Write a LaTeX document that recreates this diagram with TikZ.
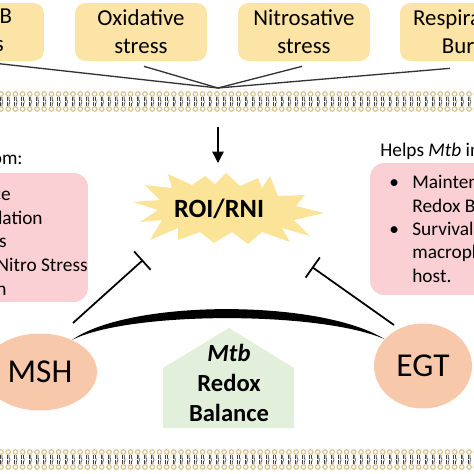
\documentclass[tikz,border=0pt]{standalone}
\usepackage{fontspec}
\setmainfont{Carlito}
\usetikzlibrary{shapes.geometric,arrows.meta,calc}

\definecolor{stressyellow}{HTML}{FCE4A6}
\definecolor{boxpink}{HTML}{FAD0D4}
\definecolor{thiolpeach}{HTML}{F8C8AA}
\definecolor{redoxgreen}{HTML}{E2EFDA}
\definecolor{burstyellow}{HTML}{FBE398}
\definecolor{lipidhead}{HTML}{D8C28E}
\definecolor{linegray}{HTML}{333333}

\begin{document}
\begin{tikzpicture}[x=0.02cm, y=-0.02cm,
    stressbox/.style={fill=stressyellow, rounded corners=6pt, minimum width=2.64cm,
        minimum height=1.16cm, inner sep=1pt, align=center, font=\fontsize{13}{15.9}\selectfont},
    infobox/.style={fill=boxpink, rounded corners=8pt},
    thiol/.style={ellipse, fill=thiolpeach, inner sep=1pt, font=\fontsize{19}{22}\selectfont},
    inhibit/.style={line width=1pt, -{Bar[width=14pt]}},
    listtext/.style={font=\fontsize{11}{13.4}\selectfont, inner sep=0pt},
    headring/.style={draw=lipidhead, fill=white, line width=0.65pt},
    tailline/.style={draw=darkgray, line width=0.45pt},
]
    \useasboundingbox (0,0) rectangle (474,474);
    \clip (0,0) rectangle (474,474);

    % Membranes - top and bottom bilayer
    \foreach \ytop in {94,452}{
        \foreach \x in {1,8.2,...,480}{
            \draw[tailline] (\x-0.9,\ytop+3) -- (\x-0.9,\ytop+7);
            \draw[tailline] (\x+0.9,\ytop+3) -- (\x+0.9,\ytop+6) -- (\x+1.8,\ytop+7.5);
            \draw[tailline] (\x-0.9,\ytop+8) -- (\x-0.9,\ytop+12);
            \draw[tailline] (\x+1.8,\ytop+8.5) -- (\x+0.9,\ytop+9.5) -- (\x+0.9,\ytop+12);
            \draw[headring] (\x,\ytop) circle[radius=1.3pt];
            \draw[headring] (\x,\ytop+15) circle[radius=1.3pt];
        }
    }

    % Stress sources outside
    \node[stressbox] (drugs) at (-22,32) {Anti-TB\\drugs};
    \node[stressbox] (oxi) at (141,32) {Oxidative\\stress};
    \node[stressbox] (nitro) at (304,32) {Nitrosative\\stress};
    \node[stressbox] (resp) at (466,32) {Respiratory\\Burst};

    \coordinate (meet) at (218,88);
    \draw[linegray, line width=0.75pt] (drugs.south) -- (meet);
    \draw[linegray, line width=0.75pt] ($(oxi.south)+(3,5)$) -- (meet);
    \draw[linegray, line width=0.75pt] ($(nitro.south)+(-2,5)$) -- (meet);
    \draw[linegray, line width=0.75pt] ($(resp.south)+(-16,7)$) -- (meet);

    % Arrow into the cell
    \coordinate (entry) at (218,127);
    \coordinate (hit) at (218,163);
    \draw[line width=0.8pt, -{Triangle[length=6.5pt,width=6.5pt]}] (entry) -- (hit);

    % ROI/RNI burst
    \fill[burstyellow] (133,202) -- (160,200) -- (145,185) -- (172,188) -- (168,174)
        -- (192,185) -- (205,176) -- (215,184) -- (226,173) -- (240,186) -- (258,178)
        -- (262,188) -- (270,176) -- (278,196) -- (305,195) -- (296,206) -- (324,213)
        -- (294,220) -- (310,236) -- (282,228) -- (290,242) -- (262,232) -- (248,244)
        -- (232,232) -- (214,243) -- (200,232) -- (178,240) -- (178,228) -- (150,240)
        -- (162,220) -- (140,222) -- (158,210) -- cycle;
    \node[font=\bfseries\fontsize{15}{18}\selectfont] (roi) at (219,209) {ROI/RNI};

    % Left side - protection list
    \node[infobox, minimum width=3.6cm, minimum height=2.58cm] (protect) at (-2,237.5) {};
    \node[listtext, anchor=base east] (protecttitle) at (23,164) {Protects \textit{Mtb} from:};
    \foreach \txt/\xe/\yb [count=\i] in {{\textbullet\ Drug tolerance}/11/200,
            {Metal accumulation}/43/224, {\textbullet\ Antibiotics}/7/247,
            {\textbullet\ Oxidative \& Nitro Stress}/88/271, {Acidification}/7/295}
        \node[listtext, anchor=base east] (prot\i) at (\xe,\yb) {\txt};

    % Right side - what EGT helps with
    \node[infobox, minimum width=3.8cm, minimum height=2.64cm] (helps) at (465,229) {};
    \node[listtext, anchor=base west] (helptitle) at (380,156) {Helps \textit{Mtb} in:};
    \node[listtext, anchor=base west] (dot1) at (389,188) {\textbullet};
    \node[listtext, anchor=base west] (dot2) at (389,235) {\textbullet};
    \foreach \txt/\yb [count=\i] in {{Maintenance of}/188, {Redox Balance}/212,
            {Survival in}/235, {macrophage}/258, {host.}/282}
        \node[listtext, anchor=base west] (help\i) at (412,\yb) {\txt};

    % Thiols and the balance between them
    \node[thiol, minimum width=2.28cm, minimum height=1.54cm] (msh) at (40,372) {MSH};
    \node[thiol, minimum width=1.96cm, minimum height=1.7cm] (egt) at (423,366) {EGT};
    \fill[black] (msh.45) .. controls (130,299) and (320,299) .. (egt.145)
        .. controls (320,311) and (130,311) .. (msh.45) -- cycle;

    \coordinate (mshtip) at (73,323);
    \coordinate (blockL) at (143,260);
    \coordinate (egttip) at (394,325);
    \coordinate (blockR) at (312,267);
    \draw[inhibit] (mshtip) -- (blockL);
    \draw[inhibit] (egttip) -- (blockR);

    % Redox balance house
    \fill[redoxgreen] (163,428) -- (294,428) -- (294,368) -- (229,328) -- (163,368) -- cycle;
    \node[font=\bfseries\fontsize{14}{17}\selectfont, align=center] (redox) at (229,383)
        {\textit{Mtb}\\Redox\\Balance};
\end{tikzpicture}
\end{document}
